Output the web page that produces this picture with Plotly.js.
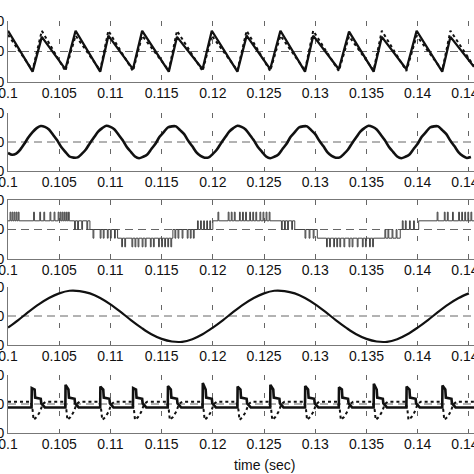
<!DOCTYPE html>
<html>
<head>
<meta charset="utf-8">
<script src="https://cdn.plot.ly/plotly-3.0.1.min.js"></script>
<style>html,body{margin:0;padding:0;background:#fff;}#chart{width:474px;height:474px;}</style>
</head>
<body>
<div id="chart"></div>
<script>
// ---------- data ----------
const xTickVals = [0.1, 0.105, 0.11, 0.115, 0.12, 0.125, 0.13, 0.135, 0.14, 0.145, 0.15];
const xTickText = ["0.1", "0.105", "0.11", "0.115", "0.12", "0.125", "0.13", "0.135", "0.14", "0.145", "0.15"];
const yTickText = ["-100", "0", "100"];
const xLabel = "time (sec)";

// panel 1: two sawtooth-like signals (vertices)
const p1Time = [0.1000, 0.1024, 0.1033, 0.1056, 0.1066, 0.1090, 0.1098, 0.1122, 0.1131, 0.1157,
                0.1165, 0.1190, 0.1199, 0.1224, 0.1233, 0.1256, 0.1266, 0.1290, 0.1298, 0.1323,
                0.1333, 0.1357, 0.1365, 0.1389, 0.1399, 0.1424, 0.1432, 0.1455];
const p1Solid = [68, -66, 48, -58, 68, -66, 52, -58, 68, -66,
                 48, -58, 68, -66, 52, -58, 68, -66, 52, -58,
                 65, -66, 48, -58, 68, -66, 48, -50];
const p1Dotted = [55, -62, 68, -64, 52, -62, 68, -64, 52, -62,
                  68, -64, 52, -62, 68, -64, 52, -62, 68, -64,
                  50, -62, 68, -64, 52, -62, 68, -48];

// panel 2: noisy sinusoid sampled every 0.4 ms
const p2Start = 0.1, p2Step = 0.0004;
const p2Values = [
  -38, -44, -40, -26, -6, 16, 34, 48, 55, 52, 43, 25, 6, -17, -34, -50,
  -54, -53, -41, -26, -4, 16, 36, 48, 56, 52, 43, 25, 6, -17, -34, -50,
  -56, -51, -43, -24, -6, 18, 34, 50, 54, 54, 41, 27, 4, -15, -36, -48,
  -54, -53, -41, -26, -4, 16, 36, 48, 56, 52, 43, 25, 6, -17, -34, -50,
  -56, -51, -43, -24, -6, 18, 34, 50, 54, 54, 41, 27, 4, -15, -36, -48,
  -54, -53, -41, -26, -4, 16, 36, 48, 56, 52, 43, 25, 6, -17, -34, -50,
  -56, -51, -43, -24, -6, 18, 34, 50, 54, 54, 41, 27, 4, -15, -36, -48,
  -55, -52];

// panel 3: multilevel switched signal: base levels + short pulses
const p3BaseT = [0.1000, 0.1080, 0.1107, 0.1161, 0.1200, 0.1280, 0.1302, 0.1383, 0.1401];
const p3BaseV = [100, 0, -100, 0, 100, 0, -100, 0, 100];
const p3PulseT = [
  0.1002, 0.1004, 0.1006, 0.1008, 0.1010,
  0.1025, 0.1031, 0.1035, 0.1041, 0.1045,
  0.1049, 0.1051, 0.1053, 0.1055, 0.1057, 0.1059,
  0.1065, 0.1068, 0.1072, 0.1077,
  0.1083, 0.1090, 0.1093, 0.1097, 0.1100, 0.1104,
  0.1111, 0.1114, 0.1121, 0.1124, 0.1127, 0.1131, 0.1134, 0.1139, 0.1142, 0.1147, 0.1150, 0.1153, 0.1156, 0.1159,
  0.1163, 0.1166, 0.1170, 0.1175, 0.1178, 0.1181,
  0.1185, 0.1188, 0.1191, 0.1194, 0.1197,
  0.1205, 0.1215, 0.1218, 0.1221, 0.1226, 0.1229, 0.1232, 0.1236, 0.1239, 0.1242, 0.1246, 0.1249, 0.1252, 0.1255,
  0.1267, 0.1270, 0.1273, 0.1277,
  0.1290, 0.1294, 0.1298,
  0.1311, 0.1314, 0.1318, 0.1321, 0.1324, 0.1328, 0.1333, 0.1336, 0.1341, 0.1346, 0.1349, 0.1353, 0.1356,
  0.1368, 0.1371, 0.1375, 0.1379,
  0.1385, 0.1388, 0.1392, 0.1396,
  0.1419, 0.1426, 0.1429, 0.1434, 0.1440, 0.1443, 0.1446, 0.1449, 0.1452];
const p3PulseV = [
  200, 200, 200, 200, 200,
  200, 200, 200, 200, 200,
  200, 200, 200, 200, 200, 200,
  0, 0, 0, 0,
  -100, -100, -100, -100, -100, -100,
  -200, -200, -200, -200, -200, -200, -200, -200, -200, -200, -200, -200, -200, -200,
  -100, -100, -100, -100, -100, -100,
  100, 100, 100, 100, 100,
  200, 200, 200, 200, 200, 200, 200, 200, 200, 200, 200, 200, 200, 200,
  0, 0, 0, 0,
  -100, -100, -100,
  -200, -200, -200, -200, -200, -200, -200, -200, -200, -200, -200, -200, -200,
  0, 0, 0, 0,
  100, 100, 100, 100,
  200, 200, 200, 200, 200, 200, 200, 200, 200];
const p3PulseWidth = 0.00008;
const p3TickText = ["-340", "0", "340"];

// panel 4: smooth sinusoid sampled every 1 ms
const p4Start = 0.1, p4Step = 0.001;
const p4Values = [-40, -14, 14, 40, 62, 78, 87, 86, 78, 62,
                  40, 14, -14, -40, -63, -79, -88, -89, -80, -63,
                  -40, -14, 14, 40, 62, 78, 87, 86, 78, 62,
                  40, 14, -14, -40, -63, -79, -88, -89, -80, -63,
                  -40, -14, 14, 40, 62, 78];

// panel 5: spikes at switching instants
const p5SpikeT = [0.1023, 0.1056, 0.1090, 0.1122, 0.1156, 0.1190, 0.1224, 0.1256, 0.1290, 0.1323, 0.1357, 0.1389, 0.1424];
const p5SpikeH = [55, 66, 60, 55, 62, 72, 60, 66, 62, 58, 70, 60, 64];
const p5SolidBase = -12;
const p5SolidDt = [0, 0.00002, 0.0003, 0.00035, 0.0009, 0.00095, 0.0013];
const p5SolidV  = [-12, null, 50, 22, 18, 2, -12];   // null -> spike height
const p5DotBase = 8;
const p5DotDt = [-0.0001, 0.0001, 0.0002, 0.0005, 0.0008, 0.0011, 0.0014];
const p5DotV  = [8, -20, -55, -45, -28, 0, 8];

// ---------- build traces ----------
const xEnd = 0.1455;
const traces = [];
const lineBlack = '#111';

traces.push({x: p1Time, y: p1Solid, xaxis: 'x', yaxis: 'y', mode: 'lines', line: {color: lineBlack, width: 2.3}});
traces.push({x: p1Time, y: p1Dotted, xaxis: 'x', yaxis: 'y', mode: 'lines', line: {color: lineBlack, width: 2, dash: 'dot'}});

const p2x = p2Values.map((_, i) => p2Start + i * p2Step);
traces.push({x: p2x, y: p2Values, xaxis: 'x2', yaxis: 'y2', mode: 'lines', line: {color: lineBlack, width: 2.6, shape: 'spline', smoothing: 0.7}});

function p3Val(t) {
  let base = p3BaseV[0];
  for (let i = 0; i < p3BaseT.length; i++) if (t >= p3BaseT[i] - 1e-9) base = p3BaseV[i];
  for (let i = 0; i < p3PulseT.length; i++) {
    if (t >= p3PulseT[i] - 1e-9 && t < p3PulseT[i] + p3PulseWidth - 1e-9) return p3PulseV[i];
  }
  return base;
}
let p3t = [...p3BaseT, ...p3PulseT, ...p3PulseT.map(t => t + p3PulseWidth), xEnd];
p3t = Array.from(new Set(p3t.map(t => +t.toFixed(6)))).sort((a, b) => a - b);
traces.push({x: p3t, y: p3t.map(p3Val), xaxis: 'x3', yaxis: 'y3', mode: 'lines', line: {color: '#444', width: 1, shape: 'hv'}});

const p4x = p4Values.map((_, i) => p4Start + i * p4Step);
traces.push({x: p4x, y: p4Values, xaxis: 'x4', yaxis: 'y4', mode: 'lines', line: {color: lineBlack, width: 2.2, shape: 'spline'}});

function buildSpikes(base, dts, vs) {
  const xs = [0.1], ys = [base];
  p5SpikeT.forEach((t0, i) => {
    dts.forEach((d, j) => { xs.push(t0 + d); ys.push(vs[j] === null ? p5SpikeH[i] : vs[j]); });
  });
  xs.push(xEnd); ys.push(base);
  return {xs, ys};
}
const s5 = buildSpikes(p5SolidBase, p5SolidDt, p5SolidV);
const d5 = buildSpikes(p5DotBase, p5DotDt, p5DotV);
traces.push({x: s5.xs, y: s5.ys, xaxis: 'x5', yaxis: 'y5', mode: 'lines', line: {color: lineBlack, width: 2.6}});
traces.push({x: d5.xs, y: d5.ys, xaxis: 'x5', yaxis: 'y5', mode: 'lines', line: {color: lineBlack, width: 2, dash: 'dot'}});

// ---------- layout ----------
const H = 474;
const panelsPx = [[21, 82], [113, 171], [200, 259], [287, 345], [375, 433]];
const font = {family: 'Liberation Sans, Arial, sans-serif', size: 14, color: '#111'};
const layout = {
  width: 474, height: 474,
  margin: {l: 8, r: 0, t: 0, b: 0},
  paper_bgcolor: '#fff', plot_bgcolor: '#fff',
  showlegend: false,
  font: font,
  shapes: [],
  annotations: [{
    text: xLabel, xref: 'x5', yref: 'paper', x: 0.125, y: (H - 465) / H,
    showarrow: false, font: font, xanchor: 'center', yanchor: 'middle'
  }]
};
panelsPx.forEach((p, i) => {
  const n = i === 0 ? '' : String(i + 1);
  const dom = [1 - p[1] / H, 1 - p[0] / H];
  const yr = i === 2 ? 340 : 100;
  layout['xaxis' + n] = {
    anchor: 'y' + n, domain: [0, 1], range: [0.1, xEnd],
    tickmode: 'array', tickvals: xTickVals, ticktext: xTickText,
    showgrid: true, gridcolor: '#666', griddash: '5px,13px', gridwidth: 1,
    showline: true, linecolor: '#777', linewidth: 1, mirror: i === 2,
    ticks: '', zeroline: false, tickfont: font, ticklabelstandoff: -2,
    ticklabeloverflow: 'allow', automargin: false
  };
  layout['yaxis' + n] = {
    anchor: 'x' + n, domain: dom, range: [-yr, yr],
    tickmode: 'array', tickvals: [-yr, 0, yr], ticktext: i === 2 ? p3TickText : yTickText,
    showgrid: false, showline: true, linecolor: '#777', linewidth: 1,
    ticks: '', zeroline: false, tickfont: font, automargin: false,
    ticklabeloverflow: 'allow'
  };
  layout.shapes.push({
    type: 'line', xref: 'x' + n + ' domain', yref: 'y' + n, x0: 0, x1: 1, y0: 0, y1: 0,
    line: {color: '#666', width: 1, dash: '8px,5px'}, layer: 'below'
  });
});

Plotly.newPlot('chart', traces, layout, {staticPlot: true, displayModeBar: false});
</script>
</body>
</html>
